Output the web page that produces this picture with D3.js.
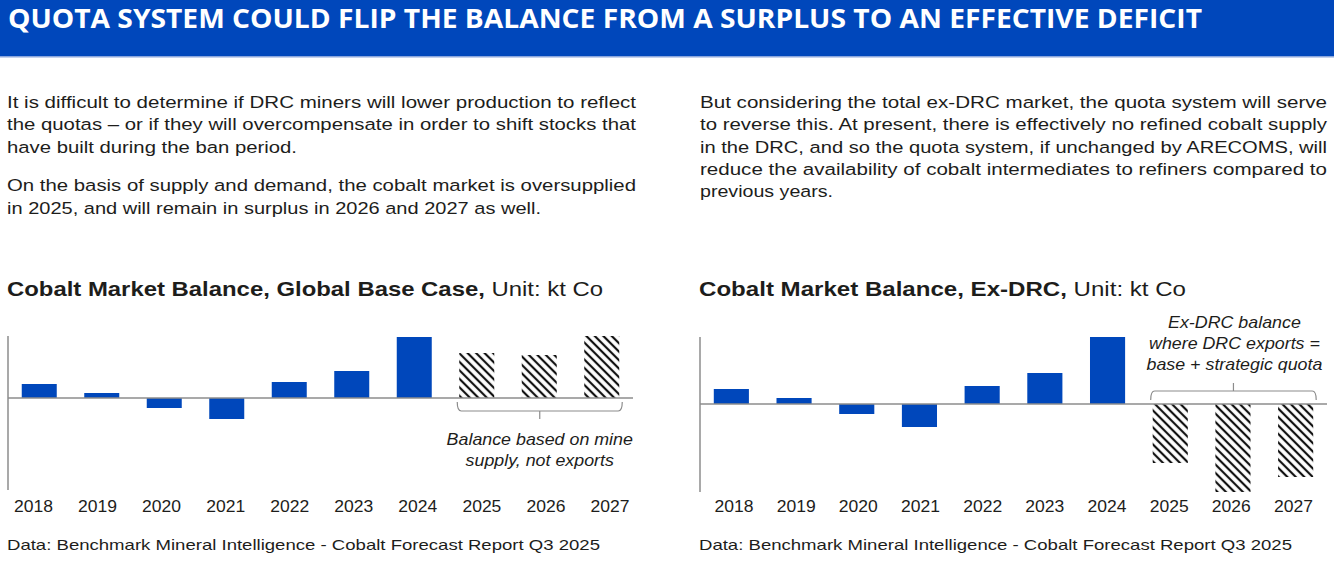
<!DOCTYPE html>
<html>
<head>
<meta charset="utf-8">
<script src="https://cdn.jsdelivr.net/npm/d3@7"></script>
<style>
  html, body { margin: 0; padding: 0; background: #fff; }
  svg { display: block; }
</style>
</head>
<body>
<svg id="svg"></svg>
<script>
// ---- data ----
const years = ["2018", "2019", "2020", "2021", "2022", "2023", "2024", "2025", "2026", "2027"];
const forecastYears = ["2025", "2026", "2027"];
const globalBalance = [7, 2.5, -5, -10.5, 8, 13.5, 30.5, 22.5, 21.5, 31];
const exDrcBalance = [7.5, 3, -5, -11.5, 9, 15.5, 33.5, -29.5, -44, -36.5];

const headline = "QUOTA SYSTEM COULD FLIP THE BALANCE FROM A SURPLUS TO AN EFFECTIVE DEFICIT";
const leftText = [
  ["It is difficult to determine if DRC miners will lower production to reflect",
   "the quotas \u2013 or if they will overcompensate in order to shift stocks that",
   "have built during the ban period."],
  ["On the basis of supply and demand, the cobalt market is oversupplied",
   "in 2025, and will remain in surplus in 2026 and 2027 as well."]
];
const rightText = [
  ["But considering the total ex-DRC market, the quota system will serve",
   "to reverse this. At present, there is effectively no refined cobalt supply",
   "in the DRC, and so the quota system, if unchanged by ARECOMS, will",
   "reduce the availability of cobalt intermediates to refiners compared to",
   "previous years."]
];
const leftTitle = ["Cobalt Market Balance, Global Base Case,", " Unit: kt Co"];
const rightTitle = ["Cobalt Market Balance, Ex-DRC,", " Unit: kt Co"];
const leftNote = ["Balance based on mine", "supply, not exports"];
const rightNote = ["Ex-DRC balance", "where DRC exports =", "base + strategic quota"];
const sourceText = "Data: Benchmark Mineral Intelligence - Cobalt Forecast Report Q3 2025";

// ---- layout ----
const width = 1334, height = 565;
const blue = "#0047bb";
const ink = "#1d1d1b";
const font = "'Liberation Sans', Arial, sans-serif";

const svg = d3.select("#svg").attr("width", width).attr("height", height);

// the source font runs wider than Arial, so text gets stretched to fit
function fitWidth(sel, target) {
  sel.attr("textLength", target).attr("lengthAdjust", "spacingAndGlyphs");
}
function stretchBy(sel, k) {
  const widths = [];
  sel.each(function() { widths.push(this.getComputedTextLength()); });
  sel.each(function(d, i) {
    d3.select(this).attr("textLength", widths[i] * k).attr("lengthAdjust", "spacingAndGlyphs");
  });
}

const defs = svg.append("defs");
defs.append("pattern")
    .attr("id", "hatch")
    .attr("patternUnits", "userSpaceOnUse")
    .attr("width", 6).attr("height", 6)
    .attr("patternTransform", "rotate(-45)")
  .call(p => p.append("rect").attr("width", 6).attr("height", 6).attr("fill", "#fff"))
  .call(p => p.append("line").attr("x1", 3).attr("x2", 3).attr("y1", -1).attr("y2", 7)
              .attr("stroke", "#111").attr("stroke-width", 2.2));

// header
svg.append("rect").attr("x", 0).attr("y", 0).attr("width", width).attr("height", 56).attr("fill", blue);
svg.append("rect").attr("x", 0).attr("y", 56).attr("width", width).attr("height", 1.5).attr("fill", "#8aa6dd");
svg.append("text")
    .attr("x", 8).attr("y", 28)
    .attr("font-family", "'Open Sans', sans-serif")
    .attr("font-weight", 700)
    .attr("font-size", 26)
    .attr("fill", "#fff")
    .text(headline)
    .call(fitWidth, 1194);

// justified paragraphs: full lines fill the column, last lines get their own width
function paragraphs(x, colWidth, blocks, lastWidths) {
  const g = svg.append("g").attr("font-family", font).attr("font-size", 16.8).attr("fill", ink);
  let y = 108;
  blocks.forEach((lines, b) => {
    lines.forEach((line, i) => {
      g.append("text")
          .attr("x", x).attr("y", y)
          .text(line)
          .call(fitWidth, i < lines.length - 1 ? colWidth : lastWidths[b]);
      y += 22.3;
    });
    y += 16.5;
  });
}
paragraphs(7, 629, leftText, [290, 534]);
paragraphs(700, 627, rightText, [133]);

// charts
function drawChart(cfg) {
  const g = svg.append("g");

  const x = d3.scaleBand().domain(years).range(cfg.xRange).paddingInner(0.44).paddingOuter(0.22);
  const xLabel = d3.scalePoint().domain(years).range(cfg.labelRange);
  const y = d3.scaleLinear().domain(cfg.domain).range([cfg.yBottom, cfg.yTop]);

  // title
  const t = g.append("text")
      .attr("x", cfg.xRange[0] - 1).attr("y", 296)
      .attr("font-family", font).attr("font-size", 21).attr("fill", ink);
  t.append("tspan").attr("font-weight", 700).text(cfg.title[0]);
  t.append("tspan").text(cfg.title[1]);
  fitWidth(t, cfg.titleWidth);

  // bars
  g.selectAll(".bar")
    .data(years.map((yr, i) => ({ year: yr, value: cfg.values[i] })))
    .join("rect")
      .attr("class", "bar")
      .attr("x", d => x(d.year))
      .attr("width", x.bandwidth())
      .attr("y", d => y(Math.max(0, d.value)))
      .attr("height", d => Math.abs(y(d.value) - y(0)))
      .attr("fill", d => forecastYears.includes(d.year) ? "url(#hatch)" : blue);

  // axis lines
  g.append("line")
      .attr("x1", cfg.xRange[0]).attr("x2", cfg.xRange[0])
      .attr("y1", cfg.yTop).attr("y2", cfg.yBottom)
      .attr("stroke", "#8c8c8c").attr("stroke-width", 1.5);
  g.append("line")
      .attr("x1", cfg.xRange[0]).attr("x2", cfg.xRange[1])
      .attr("y1", y(0)).attr("y2", y(0))
      .attr("stroke", "#8c8c8c").attr("stroke-width", 1.5);

  // year labels
  g.append("g")
      .attr("font-family", font).attr("font-size", 17).attr("fill", ink)
      .attr("text-anchor", "middle")
    .selectAll("text")
    .data(years)
    .join("text")
      .attr("x", d => xLabel(d))
      .attr("y", 512)
      .text(d => d)
      .call(stretchBy, 1.03);

  // bracket over the forecast bars
  const bx0 = x(forecastYears[0]) - 2;
  const bx1 = x(forecastYears[forecastYears.length - 1]) + x.bandwidth() + 3;
  const bm = (bx0 + bx1) / 2;
  const dir = cfg.bracketDir; // +1 below the zero line, -1 above
  const yEnd = y(0) + dir * 4;
  const yBar = y(0) + dir * 13;
  const yTip = y(0) + dir * 21;
  const path = d3.path();
  path.moveTo(bx0, yEnd);
  path.quadraticCurveTo(bx0, yBar, bx0 + 4, yBar);
  path.lineTo(bx1 - 4, yBar);
  path.quadraticCurveTo(bx1, yBar, bx1, yEnd);
  path.moveTo(bm, yBar);
  path.lineTo(bm, yTip);
  g.append("path").attr("d", path.toString())
      .attr("fill", "none").attr("stroke", "#8c8c8c").attr("stroke-width", 1.2);

  // note
  g.append("g")
      .attr("font-family", font).attr("font-size", 16.5).attr("font-style", "italic")
      .attr("fill", ink).attr("text-anchor", "middle")
    .selectAll("text")
    .data(cfg.note)
    .join("text")
      .attr("x", bm + cfg.noteDx)
      .attr("y", (d, i) => cfg.noteY + i * 21)
      .text(d => d)
      .call(stretchBy, cfg.noteK);

  // source
  g.append("text")
      .attr("x", cfg.xRange[0] - 1).attr("y", 550)
      .attr("font-family", font).attr("font-size", 15).attr("fill", ink)
      .text(sourceText)
      .call(fitWidth, 593);
}

drawChart({
  values: globalBalance,
  xRange: [8, 633],
  labelRange: [33.5, 610],
  domain: [-46, 31],
  yTop: 336, yBottom: 490,
  title: leftTitle, titleWidth: 596,
  bracketDir: 1,
  note: leftNote, noteY: 445, noteDx: 0, noteK: 1.08
});

drawChart({
  values: exDrcBalance,
  xRange: [700, 1327],
  labelRange: [734, 1293.5],
  domain: [-44, 33.5],
  yTop: 337, yBottom: 492,
  title: rightTitle, titleWidth: 487,
  bracketDir: -1,
  note: rightNote, noteY: 328, noteDx: 1, noteK: 1.08
});
</script>
</body>
</html>
